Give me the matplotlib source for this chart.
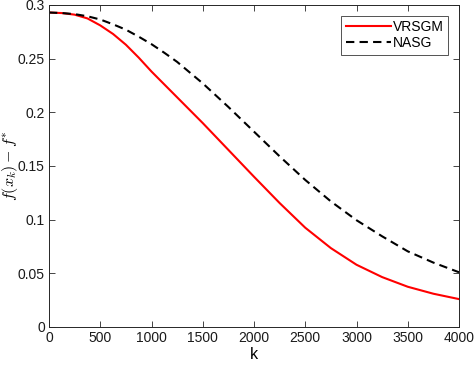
import matplotlib
matplotlib.use("Agg")
import matplotlib.pyplot as plt

k = [0, 125, 250, 375, 500, 625, 750, 875, 1000, 1125, 1250, 1500, 1750, 2000, 2250, 2500, 2750, 3000, 3250, 3500, 3750, 4000]
vrsgm = [0.293, 0.2925, 0.291, 0.2875, 0.281, 0.273, 0.263, 0.251, 0.238, 0.226, 0.214, 0.190, 0.165, 0.140, 0.1155, 0.0925, 0.0735, 0.058, 0.0465, 0.0375, 0.031, 0.026]
nasg = [0.293, 0.2925, 0.2915, 0.2895, 0.2865, 0.282, 0.277, 0.2705, 0.2635, 0.2555, 0.247, 0.227, 0.205, 0.182, 0.159, 0.137, 0.117, 0.0995, 0.0845, 0.0705, 0.060, 0.051]

xticks = [0, 500, 1000, 1500, 2000, 2500, 3000, 3500, 4000]
yticks = [0, 0.05, 0.1, 0.15, 0.2, 0.25, 0.3]
ytick_labels = ["0", "0.05", "0.1", "0.15", "0.2", "0.25", "0.3"]

plt.rcParams['font.family'] = ['Liberation Sans', 'DejaVu Sans']
plt.rcParams['mathtext.fontset'] = 'cm'

fig = plt.figure(figsize=(4.74, 3.66), dpi=100)
ax = fig.add_axes([49/474, 1-327/366, 410/474, 322/366])

axcol = '#262626'
ax.plot(k, vrsgm, color='#ff0000', lw=1.5, label='VRSGM')
ax.plot(k, nasg, color='black', lw=1.5, dashes=(4, 2.5), label='NASG')

ax.set_xlim(0, 4000)
ax.set_ylim(0, 0.3)
ax.set_xticks(xticks)
ax.set_xticklabels([str(v) for v in xticks])
ax.set_yticks(yticks)
ax.set_yticklabels(ytick_labels)
ax.tick_params(direction='in', top=True, right=True, length=4, width=0.6,
               colors=axcol, labelsize=10, labelcolor='#1a1a1a', pad=3)
for s in ax.spines.values():
    s.set_color(axcol)
    s.set_linewidth(0.7)

ax.set_xlabel('k', fontsize=11.5, labelpad=1.5)
ax.set_ylabel(r'$f(x_k) - f^{*}$', fontsize=11.5)
ax.yaxis.set_label_coords(-0.07, 0.5)

leg = ax.legend(loc='upper right', fontsize=10, frameon=True, fancybox=False,
                edgecolor=axcol, handlelength=3.3, borderpad=0.3,
                labelspacing=0.15, handletextpad=0.1, borderaxespad=0.8)
leg.get_frame().set_linewidth(0.7)

fig.savefig('out.png', dpi=100)
